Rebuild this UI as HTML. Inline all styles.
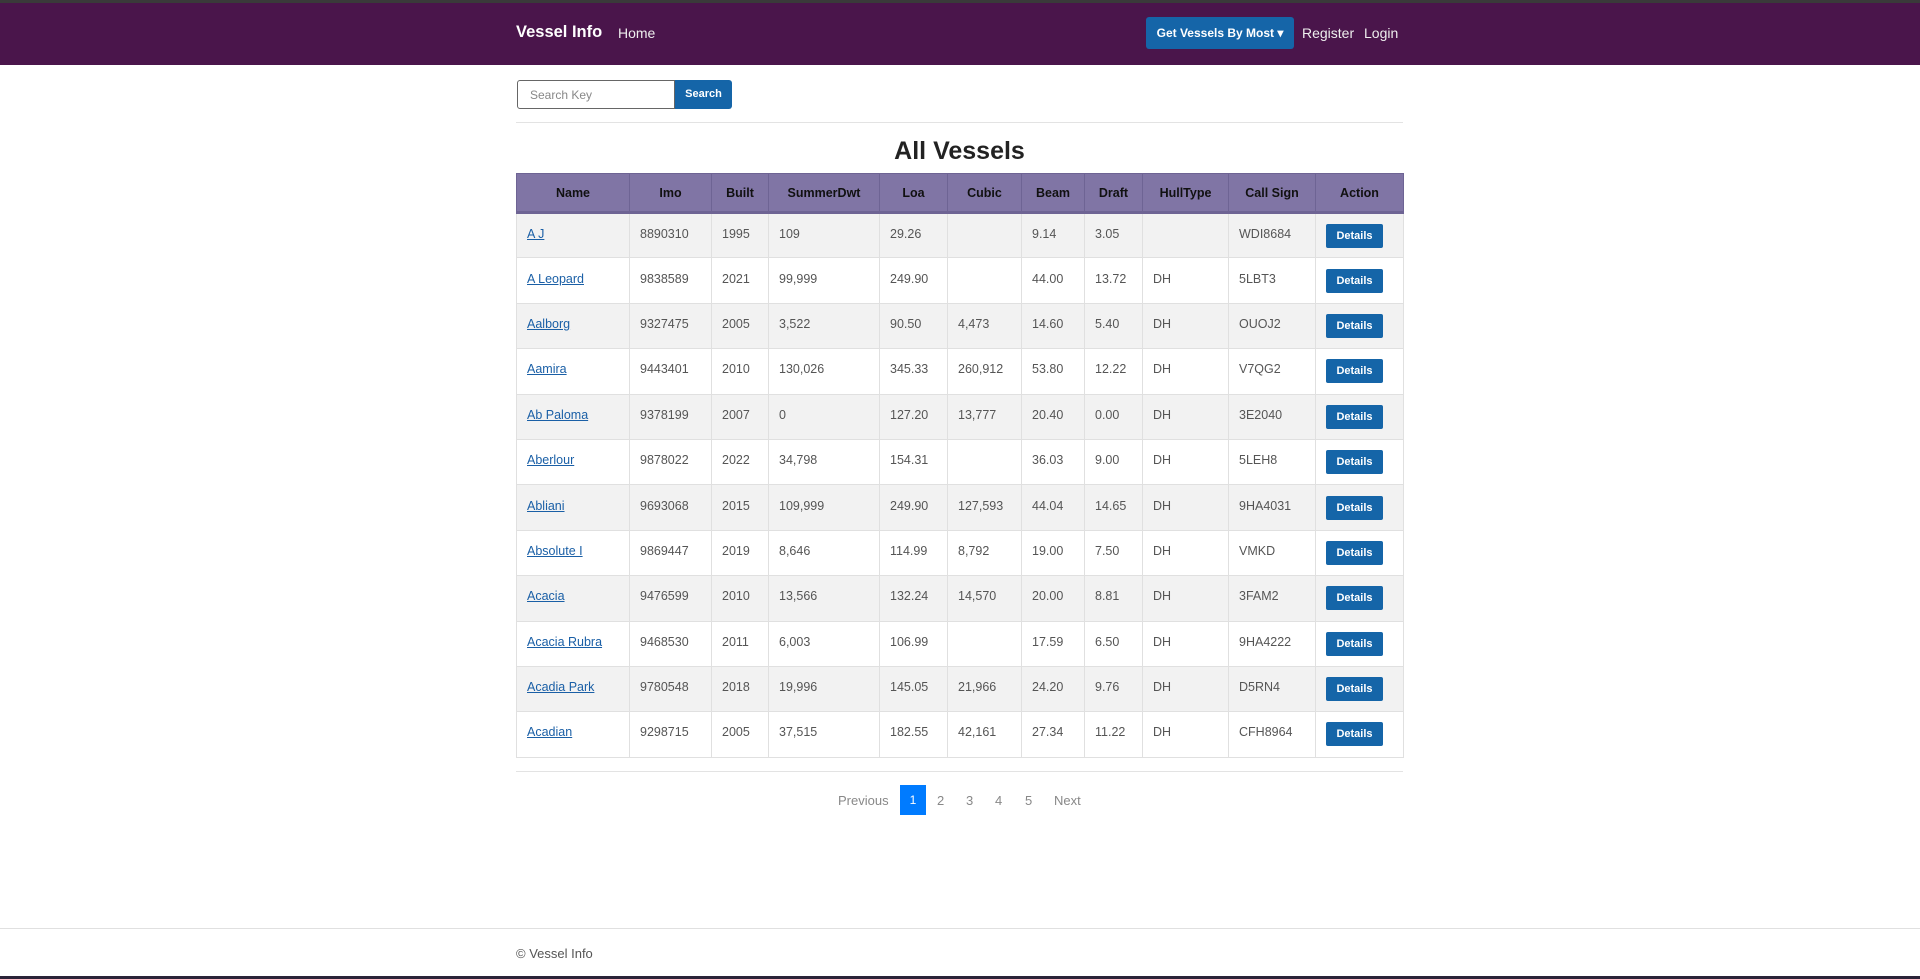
<!DOCTYPE html>
<html><head><meta charset="utf-8"><style>
*{box-sizing:border-box;margin:0;padding:0}
body{width:1920px;height:979px;overflow:hidden;background:#fff;font-family:"Liberation Sans",sans-serif;position:relative;color:#333}
.nav{position:absolute;left:0;top:0;width:1920px;height:65px;background:#4a154b;border-top:3px solid #3a3a3a}
.nav span,.nav a{position:absolute;color:#eee;font-size:14px;text-decoration:none}
.brand{left:516px;top:20px;font-size:16.5px!important;font-weight:bold;color:#fff!important}
.dd{position:absolute;left:1146px;top:14px;width:148px;height:32px;background:#1565a8;color:#fff;font-size:12px;font-weight:bold;border-radius:3px;line-height:32px;text-align:center;border:none}
.search{position:absolute;left:517px;top:80px;width:158px;height:29px;border:1px solid #666;border-radius:3px 0 0 3px;font-size:12px;color:#888;padding:7px 12px}
.sbtn{position:absolute;left:675px;top:80px;width:57px;height:29px;background:#1565a8;color:#fff;font-size:11px;font-weight:bold;line-height:29px;text-align:center;border-radius:0 3px 3px 0}
.hr{position:absolute;left:516px;width:887px;height:1px;background:#e3e3e3}
h1{position:absolute;left:516px;width:887px;top:137px;text-align:center;font-size:25px;color:#222}
table{position:absolute;left:516px;top:173px;width:887px;border-collapse:collapse;table-layout:fixed;font-size:12.5px}
th{background:#8075a5;height:39px;font-size:12.5px;color:#111;border:1px solid #6e6494;border-bottom:3px solid #6e6494}
td{height:45.4px;border:1px solid #e0e0e0;padding:0 10px 4px;color:#555;vertical-align:middle}
tr:nth-child(odd) td{background:#f2f2f2}
td a{color:#1a5fa6;text-decoration:underline}
.det{display:inline-block;width:57px;height:24px;background:#1565a8;color:#fff;font-size:11px;font-weight:bold;line-height:24px;text-align:center;border-radius:2px;margin-top:4px}
.pg{position:absolute;top:793px;font-size:13px;color:#888}
.cur{position:absolute;left:900px;top:785px;width:26px;height:30px;background:#007bff;color:#fff;font-size:12px;text-align:center;line-height:30px}
.foot{position:absolute;left:0;top:928px;width:1920px;height:1px;background:#e0e0e0}
.ft{position:absolute;left:516px;top:946px;font-size:13px;color:#555}
.bot{position:absolute;left:0;top:976px;width:1920px;height:3px;background:#2a2438}
</style></head><body>
<div class="nav">
<a class="brand" href="#">Vessel Info</a>
<a href="#" style="left:618px;top:22px">Home</a>
<div class="dd">Get Vessels By Most ▾</div>
<a href="#" style="left:1302px;top:22px">Register</a>
<a href="#" style="left:1364px;top:22px">Login</a>
</div>
<div class="search">Search Key</div>
<div class="sbtn">Search</div>
<div class="hr" style="top:122px"></div>
<h1>All Vessels</h1>
<table>
<colgroup><col style="width:113px"><col style="width:82px"><col style="width:57px"><col style="width:111px"><col style="width:68px"><col style="width:74px"><col style="width:63px"><col style="width:58px"><col style="width:86px"><col style="width:87px"><col style="width:88px"></colgroup>
<thead><tr><th>Name</th><th>Imo</th><th>Built</th><th>SummerDwt</th><th>Loa</th><th>Cubic</th><th>Beam</th><th>Draft</th><th>HullType</th><th>Call Sign</th><th>Action</th></tr></thead>
<tbody id="tb"></tbody></table>
<div class="hr" style="top:771px"></div>
<span class="pg" style="left:838px">Previous</span>
<div class="cur">1</div>
<span class="pg" style="left:937px">2</span>
<span class="pg" style="left:966px">3</span>
<span class="pg" style="left:995px">4</span>
<span class="pg" style="left:1025px">5</span>
<span class="pg" style="left:1054px">Next</span>
<div class="foot"></div>
<div class="ft">© Vessel Info</div>
<div class="bot"></div>
<script>
const rows=[["A J","8890310","1995","109","29.26","","9.14","3.05","","WDI8684"],
["A Leopard","9838589","2021","99,999","249.90","","44.00","13.72","DH","5LBT3"],
["Aalborg","9327475","2005","3,522","90.50","4,473","14.60","5.40","DH","OUOJ2"],
["Aamira","9443401","2010","130,026","345.33","260,912","53.80","12.22","DH","V7QG2"],
["Ab Paloma","9378199","2007","0","127.20","13,777","20.40","0.00","DH","3E2040"],
["Aberlour","9878022","2022","34,798","154.31","","36.03","9.00","DH","5LEH8"],
["Abliani","9693068","2015","109,999","249.90","127,593","44.04","14.65","DH","9HA4031"],
["Absolute I","9869447","2019","8,646","114.99","8,792","19.00","7.50","DH","VMKD"],
["Acacia","9476599","2010","13,566","132.24","14,570","20.00","8.81","DH","3FAM2"],
["Acacia Rubra","9468530","2011","6,003","106.99","","17.59","6.50","DH","9HA4222"],
["Acadia Park","9780548","2018","19,996","145.05","21,966","24.20","9.76","DH","D5RN4"],
["Acadian","9298715","2005","37,515","182.55","42,161","27.34","11.22","DH","CFH8964"]];
const tb=document.getElementById('tb');
rows.forEach(r=>{const tr=document.createElement('tr');


r.forEach((v,i)=>{const td=document.createElement('td');
if(i==0){const a=document.createElement('a');a.href='#';a.textContent=v;


td.appendChild(a);}else td.textContent=v;
tr.appendChild(td);});
const td=document.createElement('td');const b=document.createElement('span');b.className='det';b.textContent='Details';


td.appendChild(b);tr.appendChild(td);tb.appendChild(tr);});
</script>
</body></html>
